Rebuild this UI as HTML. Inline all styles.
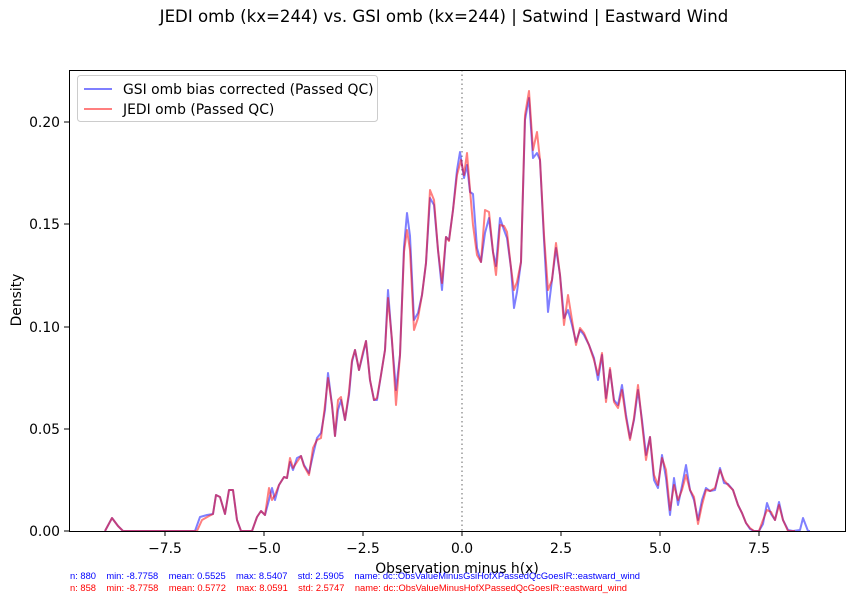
<!DOCTYPE html><html><head><style>body{margin:0;background:#fff}svg{font-family:"DejaVu Sans","Liberation Sans",sans-serif}</style></head><body>
<svg width="855" height="601" viewBox="0 0 855 601" xmlns="http://www.w3.org/2000/svg">
<text x="444" y="22" font-size="16.6" text-anchor="middle">JEDI omb (kx=244) vs. GSI omb (kx=244) | Satwind | Eastward Wind</text>
<line x1="462" y1="70" x2="462" y2="531" stroke="#999" stroke-width="1.5" stroke-dasharray="1.5,3"/>
<g fill="none" stroke-width="2" stroke-linejoin="round">
<polyline stroke="#0000ff" stroke-opacity="0.5" points="105,531 112,518 118,526 123,531 195,531 200,517 207,515 213,514 216,495 220,497 225,514 229,490 233,490 237,520 241,531 252,531 257,517 261,511 265,515 269,500 272,488 275,500 279,485 284,477 287,478 290,462 293,470 297,458 301,456 304,465 309,473 313,455 317,438 321,433 325,410 328,373 332,405 335,436 338,410 341,400 345,420 349,395 352,362 355,350 359,370 363,354 366,341 370,380 374,400 377,400 381,375 385,350 388,290 392,342 396,390 400,355 404,247 407,213 410,236 414,320 418,313 422,295 426,263 430,198 434,205 438,250 442,290 446,237 449,240 453,210 457,170 460,152 464,178 467,165 470,192 473,194 477,248 481,262 485,233 489,218 493,252 496,266 500,218 504,230 507,238 511,268 514,308 517,292 521,262 525,120 529,98 533,158 537,153 540,160 544,240 548,312 552,280 556,248 560,275 564,318 568,310 572,325 576,342 580,330 584,335 589,345 594,358 598,380 602,355 606,398 610,370 614,400 618,405 622,385 626,415 630,438 634,420 638,390 642,420 646,455 650,437 654,480 658,488 662,455 666,478 670,515 674,478 678,505 682,486 686,465 690,490 694,500 698,520 702,500 706,488 710,491 715,490 720,468 724,483 728,484 733,490 738,505 742,513 746,523 750,529 754,531 759,531 763,524 767,503 771,514 775,520 779,502 783,520 788,530 793,531 800,530 803,518 808,531 810,531"/>
<polyline stroke="#ff0000" stroke-opacity="0.5" points="105,531 112,518 118,526 123,531 197,531 202,520 209,516 213,514 216,495 220,497 225,514 229,490 233,490 237,520 241,531 252,531 257,517 261,511 265,515 269,488 272,500 275,495 279,485 284,477 287,478 290,458 293,468 297,462 301,456 304,466 309,475 313,448 317,440 321,438 325,405 328,378 332,405 335,436 338,400 341,397 345,420 349,392 352,360 355,350 359,370 363,352 366,341 370,380 374,400 377,398 381,375 385,350 388,298 392,340 396,405 400,355 404,252 407,230 410,250 414,330 418,318 422,295 426,263 430,190 434,200 438,250 442,283 446,237 449,241 453,210 457,175 461,160 464,175 467,153 470,190 473,225 477,255 481,262 485,210 489,212 493,252 496,275 500,225 504,226 507,232 511,268 514,290 517,282 521,262 525,115 529,91 533,150 537,132 540,160 544,235 548,290 552,280 556,243 560,275 564,325 568,295 572,320 576,345 580,328 584,333 589,345 594,360 598,375 602,353 606,402 610,368 614,402 618,408 622,390 626,418 630,440 634,418 638,385 642,423 646,460 650,437 654,475 658,485 662,458 666,470 670,510 674,485 678,500 682,490 686,475 690,490 694,497 698,524 702,505 706,490 710,491 715,488 720,470 724,480 728,485 733,490 738,505 742,513 746,523 750,528 754,531 759,531 763,520 767,510 771,512 775,520 779,505 783,520 788,531 795,531"/>
</g>
<rect x="69.5" y="70.5" width="776" height="461" fill="none" stroke="#000" stroke-width="1"/>
<g stroke="#000" stroke-width="1">
<line x1="165" y1="531" x2="165" y2="536"/><line x1="264" y1="531" x2="264" y2="536"/><line x1="363" y1="531" x2="363" y2="536"/><line x1="462" y1="531" x2="462" y2="536"/><line x1="561" y1="531" x2="561" y2="536"/><line x1="660" y1="531" x2="660" y2="536"/><line x1="759" y1="531" x2="759" y2="536"/>
<line x1="64" y1="531" x2="69" y2="531"/><line x1="64" y1="429" x2="69" y2="429"/><line x1="64" y1="327" x2="69" y2="327"/><line x1="64" y1="224" x2="69" y2="224"/><line x1="64" y1="122" x2="69" y2="122"/>
</g>
<g font-size="13.9" text-anchor="middle">
<text x="165" y="553">−7.5</text><text x="264" y="553">−5.0</text><text x="363" y="553">−2.5</text><text x="462" y="553">0.0</text><text x="561" y="553">2.5</text><text x="660" y="553">5.0</text><text x="759" y="553">7.5</text>
<text x="457" y="573">Observation minus h(x)</text>
</g>
<g font-size="13.9" text-anchor="end">
<text x="60" y="536">0.00</text><text x="60" y="434">0.05</text><text x="60" y="332">0.10</text><text x="60" y="229">0.15</text><text x="60" y="127">0.20</text>
</g>
<text x="21" y="300" font-size="13.9" text-anchor="middle" transform="rotate(-90 21 300)">Density</text>
<rect x="77.5" y="75.5" width="300" height="46" rx="3" fill="#fff" stroke="#ccc"/>
<line x1="84" y1="89" x2="112" y2="89" stroke="#0000ff" stroke-opacity="0.5" stroke-width="2"/>
<line x1="84" y1="109" x2="112" y2="109" stroke="#ff0000" stroke-opacity="0.5" stroke-width="2"/>
<text x="123" y="94" font-size="13.9">GSI omb bias corrected (Passed QC)</text>
<text x="123" y="114" font-size="13.9">JEDI omb (Passed QC)</text>
<g font-size="9.2" font-family="Liberation Sans Narrow,Liberation Sans,sans-serif">
<text x="70" y="579" fill="#0000ff" xml:space="preserve" textLength="570" lengthAdjust="spacingAndGlyphs">n: 880    min: -8.7758    mean: 0.5525    max: 8.5407    std: 2.5905    name: dc::ObsValueMinusGsiHofXPassedQcGoesIR::eastward_wind</text>
<text x="70" y="591" fill="#ff0000" xml:space="preserve" textLength="557" lengthAdjust="spacingAndGlyphs">n: 858    min: -8.7758    mean: 0.5772    max: 8.0591    std: 2.5747    name: dc::ObsValueMinusHofXPassedQcGoesIR::eastward_wind</text>
</g>
</svg></body></html>
